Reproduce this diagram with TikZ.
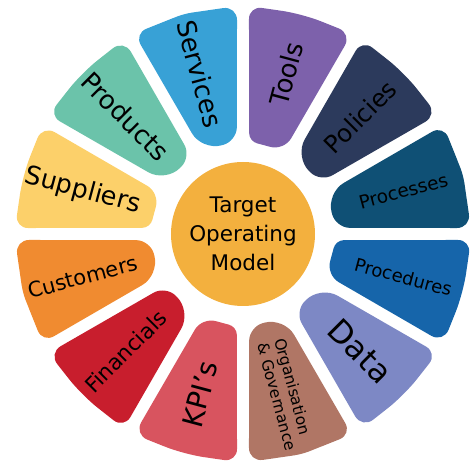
\documentclass[tikz,border=0pt]{standalone}
\usepackage{fontspec}
\setmainfont{DejaVu Sans}
\definecolor{tomc}{HTML}{F3B03E}
\definecolor{toolsc}{HTML}{7D61AB}
\definecolor{policiesc}{HTML}{2C3A5C}
\definecolor{processesc}{HTML}{0F5075}
\definecolor{proceduresc}{HTML}{1665AA}
\definecolor{datac}{HTML}{7D88C5}
\definecolor{orgc}{HTML}{B07665}
\definecolor{kpic}{HTML}{D8545F}
\definecolor{financialsc}{HTML}{C81E2D}
\definecolor{customersc}{HTML}{F08B30}
\definecolor{suppliersc}{HTML}{FCD06A}
\definecolor{productsc}{HTML}{6BC3AA}
\definecolor{servicesc}{HTML}{38A1D6}

\begin{document}
\begin{tikzpicture}[x=1pt,y=1pt,
  lbl/.style={text=black, align=left, inner sep=0pt}]
\useasboundingbox (-243,-231) rectangle (231,234);
% angle / colour / text / rotation / font size / skip / outer corners
\foreach \ang/\col/\txt/\rot/\fs/\bs/\ra/\rb [count=\i] in {
  75/toolsc/Tools/75/26/30/20/8,
  45/policiesc/Policies/45/24.5/29/20/20,
  15/processesc/Processes/15/18.5/22/8/20,
  -15/proceduresc/Procedures/-15/18/21/20/8,
  -45/datac/Data/-45/31.5/37/20/20,
  -75/orgc/{Organisation\\\& Governance}/-75/15.5/18/8/20,
  -105/kpic/KPI's/75/28/32/20/8,
  -135/financialsc/Financials/45/21.5/25/20/20,
  -165/customersc/Customers/15/21/25/8/20,
  165/suppliersc/Suppliers/-15/25.5/30/20/8,
  135/productsc/Products/-45/26/30/20/20,
  105/servicesc/Services/-75/26/30/8/20}
{
  \fill[\col] (\ang-15+3.8:93) [rounded corners=14pt] -- (\ang-15+1.5:228)
    [rounded corners=\ra pt] -- (\ang:228) [rounded corners=13pt]
    -- (\ang+15-1.5:228) [rounded corners=\rb pt] -- (\ang+15-3.8:93)
    [rounded corners=14pt] -- cycle;
  \node[lbl, rotate=\rot, font=\fontsize{\fs}{\bs}\selectfont] (seg\i) at (\ang:166) {\txt};
}
\node[circle, fill=tomc, minimum size=144pt, align=center,
  font=\fontsize{21.5}{29}\selectfont] (tom) at (0,0) {Target\\Operating\\Model};
\end{tikzpicture}
\end{document}
